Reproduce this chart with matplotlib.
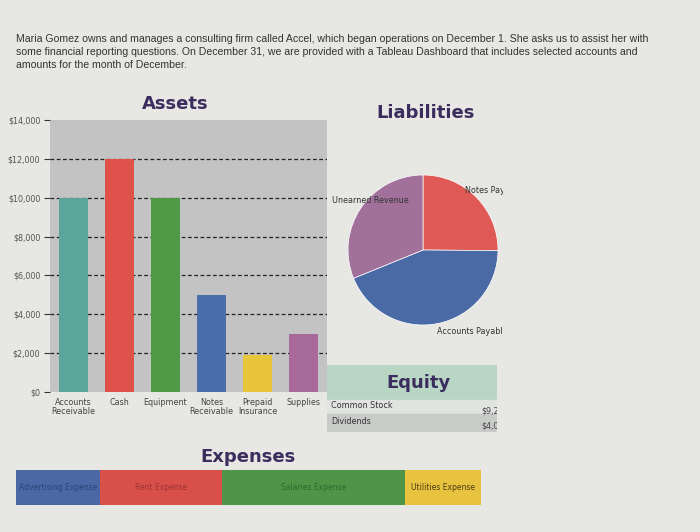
import matplotlib.pyplot as plt
from matplotlib.ticker import FuncFormatter

W, H = 700, 532

intro_lines = [
    "Maria Gomez owns and manages a consulting firm called Accel, which began operations on December 1. She asks us to assist her with",
    "some financial reporting questions. On December 31, we are provided with a Tableau Dashboard that includes selected accounts and",
    "amounts for the month of December.",
]

asset_names = ["Accounts\nReceivable", "Cash", "Equipment", "Notes\nReceivable", "Prepaid\nInsurance", "Supplies"]
asset_values = [10000, 12000, 10000, 5000, 1900, 3000]
asset_colors = ["#5ba69b", "#df524c", "#509a47", "#4a6eab", "#e9c53c", "#a8699b"]

liab_names = ["Notes Payable", "Accounts Payable", "Unearned Revenue"]
liab_values = [5000, 8700, 6200]
liab_colors = ["#df5a55", "#4a6aa6", "#a2719b"]

equity_names = ["Common Stock", "Dividends"]
equity_values = [9200, 4000]

expense_names = ["Advertising Expense", "Rent Expense", "Salaries Expense", "Utilities Expense"]
expense_values = [1100, 1600, 2400, 1000]
expense_colors = ["#4c68a4", "#d9504b", "#4f9447", "#e8c33f"]
expense_text = ["#2c4478", "#9e3430", "#2f6a2c", "#4a3c12"]

title_color = "#3b2d5e"
bg = "#e7e7e4"


def box(x0, y0, x1, y1):
    # pixel box (top-left origin) -> figure fraction
    return [x0 / W, 1 - y1 / H, (x1 - x0) / W, (y1 - y0) / H]


fig = plt.figure(figsize=(W / 100, H / 100), dpi=100, facecolor=bg)

for i, line in enumerate(intro_lines):
    fig.text(16 / W, 1 - (39 + i * 13) / H, line, fontsize=7.55, color="#333333",
             family="Liberation Sans", va="center")

# Assets bar chart
fig.text(175 / W, 1 - 104 / H, "Assets", fontsize=13, fontweight="bold",
         color=title_color, ha="center", va="center")
ax = fig.add_axes(box(50, 120, 327, 392))
ax.set_facecolor("#c3c3c3")
x = range(len(asset_names))
ax.bar(x, asset_values, width=0.63, color=asset_colors, zorder=3)
ax.set_ylim(0, 14000)
ax.set_xlim(-0.5, len(asset_names) - 0.5)
ax.set_yticks(range(0, 14001, 2000))
ax.yaxis.set_major_formatter(FuncFormatter(lambda v, p: f"${v:,.0f}"))
ax.set_xticks(list(x))
ax.set_xticklabels(asset_names, fontsize=5.8, color="#444444", linespacing=1.1)
ax.tick_params(axis="x", length=0, pad=4)
ax.tick_params(axis="y", labelsize=5.8, labelcolor="#555555", length=4, width=0.8,
               color="#333333", pad=3)
ax.grid(axis="y", color="#222222", linestyle=(0, (3, 2)), linewidth=0.9, zorder=1)
gl = ax.yaxis.get_gridlines()
gl[0].set_visible(False)
gl[-1].set_visible(False)
for s in ax.spines.values():
    s.set_visible(False)

# Liabilities pie
fig.text(426 / W, 1 - 113 / H, "Liabilities", fontsize=13, fontweight="bold",
         color=title_color, ha="center", va="center")
r = 75
cx, cy = 423, 250
axp = fig.add_axes(box(329, 165, 503, 340))
axp.pie(liab_values, colors=liab_colors, startangle=90, counterclock=False,
        radius=1, wedgeprops=dict(edgecolor="white", linewidth=0.5))
axp.set_aspect("auto")
axp.set_xlim((329 - cx) / r, (503 - cx) / r)
axp.set_ylim((cy - 340) / r, (cy - 165) / r)
axp.axis("off")
label_pos = [(0.56, 0.79), (0.19, -1.08), (-1.22, 0.66)]
for name, (lx, ly) in zip(liab_names, label_pos):
    axp.text(lx, ly, name, fontsize=5.8, color="#333333", va="center",
             ha="left", clip_on=True)

# Equity table
axe = fig.add_axes(box(327, 365, 497, 432))
axe.set_xlim(0, 170)
axe.set_ylim(67, 0)
axe.axis("off")
axe.add_patch(plt.Rectangle((0, 0), 170, 35, color="#b9d5c4"))
axe.add_patch(plt.Rectangle((0, 35), 170, 14, color="#e1e3e1"))
axe.add_patch(plt.Rectangle((0, 49), 170, 18, color="#c9cbc9"))
axe.text(91, 18, "Equity", fontsize=13, fontweight="bold", color=title_color,
         ha="center", va="center")
for i, (name, val) in enumerate(zip(equity_names, equity_values)):
    axe.text(4, 41 + i * 15, name, fontsize=5.8, color="#333333", va="center")
    axe.text(154, 46 + i * 15, f"${val:,.0f}", fontsize=5.8, color="#444444",
             va="center", clip_on=True)

# Expenses stacked bar
fig.text(248 / W, 1 - 457 / H, "Expenses", fontsize=13, fontweight="bold",
         color=title_color, ha="center", va="center")
axx = fig.add_axes(box(16, 470, 481, 505))
total = sum(expense_values)
left = 0
for name, val, c, tc in zip(expense_names, expense_values, expense_colors, expense_text):
    axx.barh(0, val, left=left, height=1, color=c)
    axx.text(left + val / 2, 0, name, fontsize=5.5, color=tc, ha="center", va="center")
    left += val
axx.set_xlim(0, total)
axx.set_ylim(-0.5, 0.5)
axx.axis("off")

fig.savefig("out.png", dpi=100, facecolor=bg)
